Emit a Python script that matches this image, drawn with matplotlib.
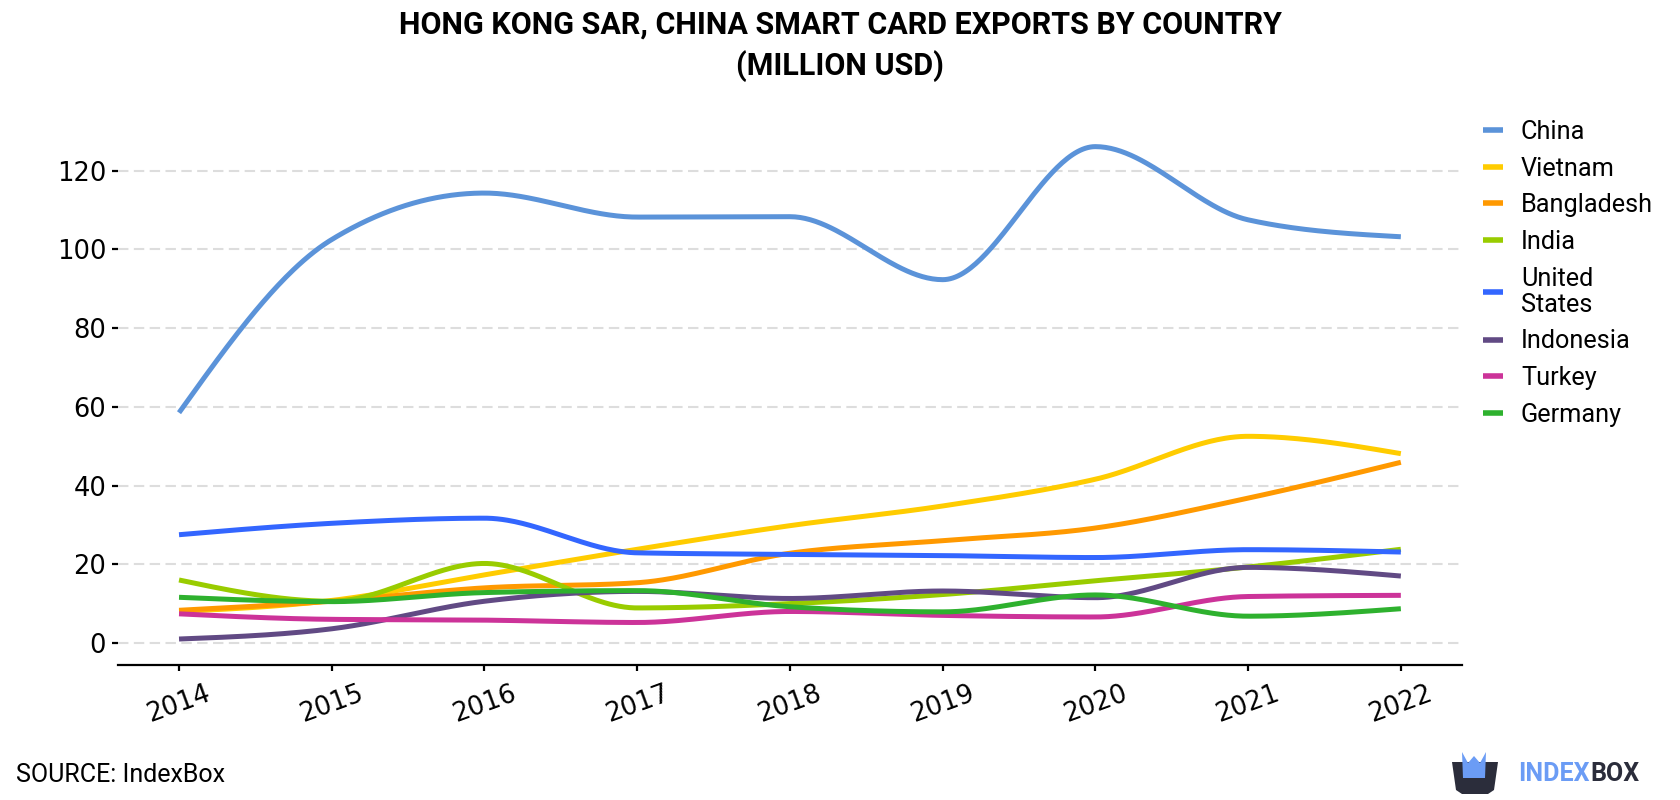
import numpy as np
import matplotlib
matplotlib.use("Agg")
import matplotlib.pyplot as plt
from matplotlib.patches import Polygon

# ---------------- data ----------------
years = [2014, 2015, 2016, 2017, 2018, 2019, 2020, 2021, 2022]
china      = [58.5, 102.5, 114.3, 108.2, 108.3, 92.3, 126.1, 107.5, 103.2]
vietnam    = [8.0, 10.8, 17.3, 23.8, 29.8, 34.8, 41.6, 52.5, 48.1]
bangladesh = [8.3, 10.6, 14.0, 15.3, 22.8, 26.0, 29.2, 36.8, 45.9]
india      = [16.0, 10.6, 20.2, 8.9, 10.0, 12.3, 15.8, 19.3, 23.8]
usa        = [27.5, 30.4, 31.7, 22.9, 22.5, 22.2, 21.7, 23.7, 23.1]
indonesia  = [1.0, 3.6, 10.6, 13.1, 11.3, 13.2, 11.5, 19.2, 17.0]
turkey     = [7.4, 6.0, 5.8, 5.2, 8.0, 7.0, 6.6, 11.8, 12.1]
germany    = [11.6, 10.5, 12.8, 13.3, 9.2, 7.9, 12.2, 6.8, 8.7]

series_names = ["China", "Vietnam", "Bangladesh", "India", "United\nStates",
                "Indonesia", "Turkey", "Germany"]
series_values = [china, vietnam, bangladesh, india, usa, indonesia, turkey, germany]
colors = ["#5b93d9", "#ffcc00", "#ff9900", "#99cc00", "#3366ff",
          "#614a84", "#cc3399", "#2eb12e"]
yticks = [0, 20, 40, 60, 80, 100, 120]

title = "HONG KONG SAR, CHINA SMART CARD EXPORTS BY COUNTRY\n(MILLION USD)"


def monotone_curve(x, y, n=60):
    """Monotone cubic (d3 curveMonotoneX style) rendering of a polyline."""
    x = np.asarray(x, float)
    y = np.asarray(y, float)
    h = np.diff(x)
    s = np.diff(y) / h
    m = np.zeros_like(y)
    for i in range(1, len(y) - 1):
        if s[i - 1] * s[i] <= 0:
            m[i] = 0.0
        else:
            p = (s[i - 1] * h[i] + s[i] * h[i - 1]) / (h[i - 1] + h[i])
            m[i] = (np.sign(s[i - 1]) + np.sign(s[i])) * min(abs(s[i - 1]), abs(s[i]), 0.5 * abs(p))
    m[0] = (3 * s[0] - m[1]) / 2
    m[-1] = (3 * s[-1] - m[-2]) / 2
    xs, ys = [], []
    for i in range(len(y) - 1):
        t = np.linspace(0, 1, n, endpoint=(i == len(y) - 2))
        h00 = 2 * t**3 - 3 * t**2 + 1
        h10 = t**3 - 2 * t**2 + t
        h01 = -2 * t**3 + 3 * t**2
        h11 = t**3 - t**2
        xs.append(x[i] + t * h[i])
        ys.append(h00 * y[i] + h10 * h[i] * m[i] + h01 * y[i + 1] + h11 * h[i] * m[i + 1])
    return np.concatenate(xs), np.concatenate(ys)


fig = plt.figure(figsize=(16.8, 8), dpi=100)
ax = fig.add_axes([0.0702, 0.16875, 0.8, 0.677])

for name, vals, col in zip(series_names, series_values, colors):
    xs, ys = monotone_curve(years, vals)
    ax.plot(xs, ys, color=col, lw=3.6, label=name, solid_capstyle="butt")

ax.set_xlim(2013.6, 2022.4)
ax.set_ylim(-5.6, 132)
ax.set_yticks(yticks)
ax.set_xticks(years)
ax.set_xticklabels([str(y) for y in years], rotation=20, ha="center")

ax.grid(axis="y", color="#dddddd", lw=1.5, linestyle=(0, (5, 2.6)))
ax.set_axisbelow(True)
for sp in ["top", "right", "left"]:
    ax.spines[sp].set_visible(False)
ax.spines["bottom"].set_linewidth(1.6)
ax.tick_params(axis="y", length=4.5, width=1.6, pad=4, labelsize=18.5)
ax.tick_params(axis="x", length=4.5, width=1.6, pad=7, labelsize=18.5)

leg = ax.legend(loc="upper left", bbox_to_anchor=(1483 / 1680, 1 - 120 / 800),
                bbox_transform=fig.transFigure, frameon=False,
                prop={"family": "Roboto", "size": 18.2},
                handlelength=0.8, handletextpad=0.7, labelspacing=0.5,
                borderpad=0, borderaxespad=0)
for t in leg.get_texts():
    t.set_linespacing(1.12)
for l in leg.get_lines():
    l.set_linewidth(4)

fig.text(0.5, 1 - 46 / 800, title, ha="center", va="center",
         fontsize=22, fontweight="bold", family="Roboto",
         linespacing=1.4)

fig.text(16 / 1680, 1 - 775 / 800, "SOURCE: IndexBox", ha="left", va="center",
         fontsize=18, family="Roboto")

# logo
t_index = fig.text(1518 / 1680, 1 - 774 / 800, "INDEX", ha="left", va="center",
                   fontsize=18, fontweight="bold", family="Roboto", color="#6b9cf5")
fig.canvas.draw()
bb = t_index.get_window_extent()
fig.text(bb.x1 / 1680 + 1 / 1680, 1 - 774 / 800, "BOX", ha="left", va="center",
         fontsize=18, fontweight="bold", family="Roboto", color="#2b2d3b")


def fpx(pts):
    return [(px / 1680, 1 - py / 800) for px, py in pts]


body = Polygon(fpx([(1452, 762), (1498, 762), (1494, 790), (1488, 794),
                    (1462, 794), (1456, 790)]), closed=True,
               transform=fig.transFigure, facecolor="#2b2d3b", edgecolor="none")
ears = Polygon(fpx([(1463, 778), (1462, 752), (1468, 763), (1474, 756), (1480, 763),
                    (1486, 752), (1485, 778)]), closed=True,
               transform=fig.transFigure, facecolor="#6b9cf5", edgecolor="none")
fig.patches.extend([body, ears])

fig.savefig("out.png", dpi=100)
